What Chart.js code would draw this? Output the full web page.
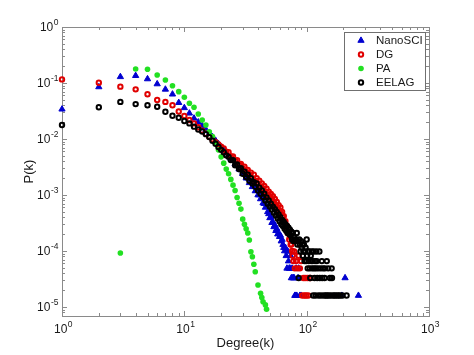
<!DOCTYPE html>
<html><head><meta charset="utf-8">
<script src="https://cdn.jsdelivr.net/npm/chart.js@4/dist/chart.umd.min.js"></script>
<style>html,body{margin:0;padding:0;background:#fff}#wrap{width:474px;height:355px}</style>
</head><body><div id="wrap"><canvas id="c" width="474" height="355"></canvas></div>
<script>
// ---- data (degree k, probability P(k)) ----
const seriesNames = ['NanoSCI', 'DG', 'PA', 'EELAG'];
const xTickExponents = [0, 1, 2, 3];
const yTickExponents = [0, -1, -2, -3, -4, -5];
const xTitle = 'Degree(k)';
const yTitle = 'P(k)';

const nanoSCI = [[1,0.034],[2,0.085],[3,0.129],[4,0.135],[5,0.118],[6,0.096],[7,0.077],[8,0.063],[9,0.0445],[10,0.036],
[11,0.0288],[12,0.0234],[13,0.0200],[14,0.0172],[15,0.0147],[16,0.0127],[17,0.0109],[18,0.0094],[19,0.0082],[20,0.0072],
[21,0.0063],[22,0.0056],[23,0.0050],[24,0.0045],[25,0.0041],[26,0.0036],[27,0.0034],[28,0.0029],[29,0.0028],[30,0.0024],
[31,0.0024],[32,0.0020],[33,0.0020],[34,0.00165],[35,0.0017],[36,0.0014],[37,0.00142],[38,0.00118],[39,0.0012],[40,0.001],
[41,0.001],[42,0.00085],[43,0.00088],[44,0.00072],[45,0.0007],[46,0.0006],[47,0.00062],[48,0.0005],[49,0.00046],[50,0.00039],
[51,0.0004],[52,0.00032],[53,0.00033],[54,0.00027],[55,0.00029],[56,0.00023],[57,0.00025],[58,0.0002],[59,0.00021],[60,0.00018],
[61,0.00019],[62,0.00015],[63,0.00016],[64,0.00013],[65,0.000115],[66,0.0001],[67,0.000115],[68,0.000082],[69,0.000049],[70,0.000098],
[71,0.000066],[72,0.000049],[73,0.000049],[74,0.000082],[75,0.000033],[76,0.000049],[77,0.000033],[78,0.000033],[79,0.000033],[80,0.000016],
[81,0.000016],[82,0.000049],[83,0.000016],[85,0.000033],[86,0.000049],[88,0.000016],[90,0.000016],[194,0.000016],[206,0.000033],[265,0.000016]];

const dg = [[1,0.116],[2,0.101],[3,0.086],[4,0.077],[5,0.063],[6,0.0497],[7,0.046],[8,0.040],[9,0.031],[10,0.0258],
[11,0.0218],[12,0.019],[13,0.0162],[14,0.0141],[15,0.0124],[16,0.0110],[17,0.0098],[18,0.0088],[19,0.0080],[20,0.0073],
[21,0.0068],[22,0.0059],[23,0.0058],[24,0.0049],[25,0.0049],[26,0.0041],[27,0.0042],[28,0.0035],[29,0.0036],[30,0.0030],
[31,0.0032],[32,0.0026],[33,0.0028],[34,0.0023],[35,0.0025],[36,0.0020],[37,0.0023],[38,0.0018],[39,0.0020],[40,0.0016],
[41,0.0018],[42,0.00142],[43,0.0016],[44,0.0013],[45,0.00145],[46,0.00115],[47,0.0013],[48,0.001],[49,0.00115],[50,0.00092],
[51,0.00104],[52,0.00082],[53,0.00095],[54,0.00074],[55,0.00085],[56,0.00066],[57,0.00075],[58,0.00058],[59,0.00066],[60,0.00052],
[61,0.0006],[62,0.00046],[63,0.0005],[64,0.0004],[65,0.00042],[66,0.00033],[67,0.00034],[68,0.00026],[69,0.00028],[70,0.00021],
[71,0.00022],[72,0.00016],[73,0.00018],[74,0.00013],[75,0.00013],[76,0.0001],[77,0.000082],[78,0.000066],[79,0.000098],[80,0.000049],
[82,0.000066],[84,0.000049],[86,0.000082],[88,0.000049],[90,0.000066],[92,0.000016],[94,0.000033],[96,0.000016],[97,0.000033],[99,0.000016],
[101,0.000033],[103,0.000016],[105,0.000033],[107,0.000033]];

const pa = [[3,0.000092],[4,0.178],[5,0.176],[6,0.139],[7,0.113],[8,0.0895],[9,0.070],[10,0.0556],[11,0.0434],[12,0.0368],
[13,0.0279],[14,0.0218],[15,0.0178],[16,0.0135],[17,0.011],[18,0.0084],[19,0.0064],[20,0.0048],[21,0.0037],[22,0.0029],
[23,0.0024],[24,0.0019],[25,0.0015],[26,0.0012],[27,0.0009],[28,0.00071],[29,0.00056],[30,0.00037],[31,0.0003],[32,0.00025],
[33,0.00021],[34,0.000157],[35,0.000097],[36,0.000079],[37,0.000058],[38,0.0000427],[40,0.0000247],[42,0.0000176],[43,0.0000148],[44,0.0000124],
[46,0.0000109],[47,0.0000091]];

const eelag = [[1,0.0178],[2,0.0368],[3,0.046],[4,0.042],[5,0.040],[6,0.0377],[7,0.0307],[8,0.026],[9,0.024],[10,0.021],
[11,0.019],[12,0.0166],[13,0.0148],[14,0.0136],[15,0.0122],[16,0.0108],[17,0.0093],[18,0.0082],[19,0.0072],[20,0.0064],
[21,0.0058],[22,0.0051],[23,0.0048],[24,0.0042],[25,0.0042],[26,0.0034],[27,0.0035],[28,0.0029],[29,0.0030],[30,0.0024],
[31,0.0026],[32,0.0021],[33,0.0023],[34,0.0018],[35,0.0020],[36,0.0016],[37,0.0017],[38,0.0014],[39,0.0016],[40,0.0012],
[41,0.00135],[42,0.00105],[43,0.0012],[44,0.00092],[45,0.00105],[46,0.0008],[47,0.0009],[48,0.0007],[49,0.0008],[50,0.00062],
[51,0.0007],[52,0.00055],[53,0.00062],[54,0.00048],[55,0.00056],[56,0.00043],[57,0.0005],[58,0.00038],[59,0.00045],[60,0.00034],
[61,0.0004],[62,0.0003],[63,0.00036],[64,0.00028],[65,0.00033],[66,0.00025],[67,0.0003],[68,0.00023],[69,0.00028],[70,0.00021],
[71,0.00026],[72,0.0002],[73,0.00024],[74,0.00019],[75,0.00022],[76,0.00016],[77,0.00021],[78,0.00015],[79,0.00018],[80,0.00016],
[81,0.00015],[82,0.00016],[83,0.00021],[84,0.00013],[85,0.00015],[86,0.000033],[87,0.00016],[88,0.00013],[89,0.000098],[90,0.00015],
[91,0.000115],[92,0.00013],[93,0.000082],[94,0.000098],[95,0.00013],[96,0.000066],[97,0.000098],[98,0.000115],[99,0.000066],[100,0.00016],
[101,0.000082],[102,0.000049],[103,0.000098],[104,0.000066],[105,0.000098],[106,0.000049],[107,0.000033],[108,0.000082],[109,0.000066],[110,0.000098],
[111,0.000049],[112,0.000066],[113,0.000016],[114,0.000098],[115,0.000049],[116,0.000033],[117,0.000066],[118,0.000016],[119,0.000049],[120,0.000098],
[121,0.000066],[122,0.000033],[124,0.000049],[125,0.000016],[127,0.000098],[128,0.000033],[130,0.000049],[131,0.000016],[133,0.000066],[134,0.000033],
[136,0.000049],[138,0.000016],[140,0.000033],[141,0.000049],[143,0.000016],[146,0.000066],[147,0.000016],[150,0.000049],[152,0.000016],[155,0.000033],
[158,0.000016],[160,0.000049],[161,0.000033],[165,0.000016],[170,0.000016],[176,0.000016],[182,0.000016],[188,0.000016],[196,0.000016],[212,0.000016]];

// ---- styles ----
const COLORS = ['#0000d0', '#e00000', '#22e022', '#000000'];
const FONT = '"Liberation Sans", Arial, Helvetica, sans-serif';

function toXY(arr){ return arr.map(p => ({x: p[0], y: p[1]})); }

const datasets = [
  {label: seriesNames[0], data: toXY(nanoSCI), pointStyle: 'triangle', pointRadius: 3.6, borderWidth: 1,
   borderColor: COLORS[0], backgroundColor: COLORS[0], order: 4},
  {label: seriesNames[1], data: toXY(dg), pointStyle: 'circle', pointRadius: 2.2, borderWidth: 2,
   borderColor: COLORS[1], backgroundColor: 'rgba(0,0,0,0)', order: 3},
  {label: seriesNames[2], data: toXY(pa), pointStyle: 'circle', pointRadius: 2.8, borderWidth: 0,
   borderColor: COLORS[2], backgroundColor: COLORS[2], order: 2},
  {label: seriesNames[3], data: toXY(eelag), pointStyle: 'circle', pointRadius: 2.2, borderWidth: 2,
   borderColor: COLORS[3], backgroundColor: 'rgba(0,0,0,0)', order: 1}
];
datasets.forEach(d => { d.clip = false; d.pointHoverRadius = d.pointRadius; });

function drawMarker(ctx, idx, x, y){
  const d = datasets[idx];
  ctx.save();
  ctx.beginPath();
  if (d.pointStyle === 'triangle'){
    const r = d.pointRadius;
    for (let i = 0; i < 3; i++){
      const a = i * 2 * Math.PI / 3;
      const px = x + Math.sin(a) * r, py = y - Math.cos(a) * r;
      if (i === 0) ctx.moveTo(px, py); else ctx.lineTo(px, py);
    }
    ctx.closePath();
  } else {
    ctx.arc(x, y, d.pointRadius, 0, Math.PI * 2);
  }
  ctx.fillStyle = d.backgroundColor; ctx.fill();
  if (d.borderWidth){ ctx.lineWidth = d.borderWidth; ctx.strokeStyle = d.borderColor; ctx.stroke(); }
  ctx.restore();
}

function powerLabel(ctx, exp, x, y, align){
  const base = '10', sup = String(exp);
  ctx.font = '12px ' + FONT;
  const w1 = ctx.measureText(base).width;
  ctx.font = '8.5px ' + FONT;
  const w2 = ctx.measureText(sup).width;
  const total = w1 + w2;
  const start = align === 'right' ? x - total : x - total / 2;
  ctx.textAlign = 'left'; ctx.textBaseline = 'middle';
  ctx.fillStyle = '#1a1a1a';
  ctx.font = '12px ' + FONT;
  ctx.fillText(base, start, y);
  ctx.font = '8.5px ' + FONT;
  ctx.fillText(sup, start + w1 + 0.5, y - 5);
}

const framePlugin = {
  id: 'framePlugin',
  beforeDatasetsDraw(chart){
    const {ctx, chartArea: a, scales: {x, y}} = chart;
    ctx.save();
    ctx.strokeStyle = '#8a8a8a'; ctx.lineWidth = 1;
    ctx.beginPath();
    for (let d = 0; d <= 3; d++){
      for (let m = 1; m <= 9; m++){
        const v = m * Math.pow(10, d);
        if (v > 1000) break;
        const px = Math.round(x.getPixelForValue(v)) + 0.5;
        const len = m === 1 ? 5 : 3;
        ctx.moveTo(px, a.bottom); ctx.lineTo(px, a.bottom - len);
        ctx.moveTo(px, a.top); ctx.lineTo(px, a.top + len);
      }
    }
    for (let d = -6; d <= 0; d++){
      for (let m = 1; m <= 9; m++){
        const v = m * Math.pow(10, d);
        if (v < y.min || v > 1.0000001) continue;
        const py = Math.round(y.getPixelForValue(v)) + 0.5;
        const len = m === 1 ? 5 : 3;
        ctx.moveTo(a.left, py); ctx.lineTo(a.left + len, py);
        ctx.moveTo(a.right, py); ctx.lineTo(a.right - len, py);
      }
    }
    ctx.stroke();
    ctx.strokeRect(a.left + 0.5, a.top + 0.5, a.right - a.left, a.bottom - a.top);
    ctx.restore();
  },
  afterDraw(chart){
    const {ctx, chartArea: a, scales: {x, y}} = chart;
    ctx.save();
    xTickExponents.forEach(e => powerLabel(ctx, e, x.getPixelForValue(Math.pow(10, e)) + 1, a.bottom + 14, 'center'));
    yTickExponents.forEach(e => powerLabel(ctx, e, a.left - 4, y.getPixelForValue(Math.pow(10, e)) + 0.5, 'right'));
    ctx.fillStyle = '#1a1a1a';
    ctx.font = '13px ' + FONT;
    ctx.textAlign = 'center'; ctx.textBaseline = 'middle';
    ctx.fillText(xTitle, (a.left + a.right) / 2, 343);
    ctx.save();
    ctx.translate(29, (a.top + a.bottom) / 2);
    ctx.rotate(-Math.PI / 2);
    ctx.fillText(yTitle, 0, 0);
    ctx.restore();
    // legend
    const lx = 344, ly = 32, lw = 81, lh = 58;
    ctx.fillStyle = '#ffffff';
    ctx.fillRect(lx, ly, lw, lh);
    ctx.strokeStyle = '#707070'; ctx.lineWidth = 1;
    ctx.strokeRect(lx + 0.5, ly + 0.5, lw, lh);
    ctx.font = '11.5px ' + FONT;
    ctx.textAlign = 'left'; ctx.textBaseline = 'middle';
    seriesNames.forEach((n, i) => {
      const ry = ly + 8.5 + i * 14;
      drawMarker(ctx, i, 361, ry);
      ctx.fillStyle = '#1a1a1a';
      ctx.fillText(n, 376, ry + 0.5);
    });
    ctx.restore();
  }
};

new Chart(document.getElementById('c'), {
  type: 'scatter',
  data: {datasets},
  options: {
    responsive: false,
    animation: false,
    devicePixelRatio: 1,
    layout: {padding: {left: 62, right: 45, top: 27, bottom: 39}},
    plugins: {legend: {display: false}, tooltip: {enabled: false}},
    scales: {
      x: {type: 'logarithmic', min: 1, max: 1000, display: false},
      y: {type: 'logarithmic', min: 6.9e-6, max: 1, display: false}
    }
  },
  plugins: [framePlugin]
});
</script>
</body></html>
